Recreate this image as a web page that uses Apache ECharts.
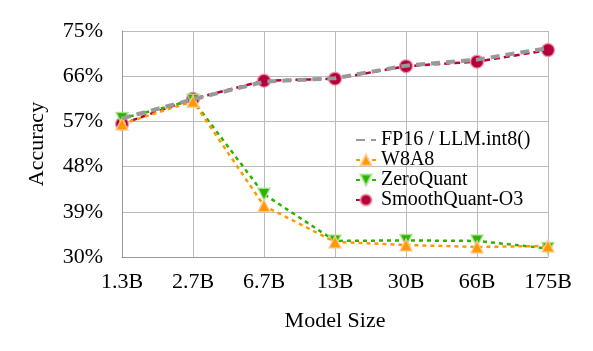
<!DOCTYPE html>
<html lang="en">
<head>
    <meta charset="UTF-8">
    <title>Accuracy vs model size</title>
    <script src="https://cdn.jsdelivr.net/npm/echarts@6/dist/echarts.min.js"></script>
    <style>
        html, body { margin: 0; padding: 0; background: #fff; }
    </style>
</head>
<body>
<div id="main" style="width: 593px;height:351px;"></div>
<script>
    // data
    var modelSizes = ['1.3B', '2.7B', '6.7B', '13B', '30B', '66B', '175B'];
    var fp16 = [57.6, 61.4, 64.9, 65.6, 68.1, 69.3, 71.6];
    var w8a8 = [56.5, 61.0, 40.2, 33.0, 32.4, 32.0, 32.2];
    var zeroQuant = [57.6, 61.2, 42.5, 33.2, 33.3, 33.2, 31.7];
    var smoothQuant = [56.5, 61.5, 65.1, 65.5, 68.0, 68.9, 71.2];

    var serif = 'Liberation Serif';
    var chart = echarts.init(document.getElementById('main'));
    var option = {
        animation: false,
        grid: {
            left: 122,
            right: 45,
            top: 31,
            bottom: 94
        },
        legend: {
            orient: 'vertical',
            left: 350,
            top: 125,
            itemWidth: 20,
            itemHeight: 14,
            itemGap: 0,
            textStyle: {
                fontFamily: serif,
                fontSize: 20,
                color: '#000'
            },
            data: [
                {name: 'FP16 / LLM.int8()', itemStyle: {opacity: 0}},
                'W8A8', 'ZeroQuant', 'SmoothQuant-O3'
            ]
        },
        xAxis: {
            type: 'category',
            boundaryGap: false,
            data: modelSizes,
            name: 'Model Size',
            nameLocation: 'middle',
            nameGap: 53,
            nameTextStyle: {fontFamily: serif, fontSize: 22, color: '#000'},
            axisLine: {lineStyle: {color: '#999', width: 1}},
            axisTick: {show: false},
            axisLabel: {fontFamily: serif, fontSize: 22, color: '#000', margin: 14},
            splitLine: {show: true, lineStyle: {color: '#bbb', width: 1}}
        },
        yAxis: {
            type: 'value',
            min: 30,
            max: 75,
            interval: 9,
            name: 'Accuracy',
            nameLocation: 'middle',
            nameGap: 74,
            nameTextStyle: {fontFamily: serif, fontSize: 22, color: '#000'},
            axisLine: {show: true, lineStyle: {color: '#999', width: 1}},
            axisTick: {show: false},
            axisLabel: {fontFamily: serif, fontSize: 22, color: '#000', margin: 19, formatter: '{value}%'},
            splitLine: {lineStyle: {color: '#bbb', width: 1}}
        },
        series: [
            {
                name: 'SmoothQuant-O3',
                type: 'line',
                data: smoothQuant,
                z: 2,
                symbol: 'circle',
                symbolSize: 13,
                lineStyle: {color: '#b5003a', width: 2.5, type: [6, 4]},
                itemStyle: {color: '#b5003a', borderColor: 'rgba(240,150,170,0.8)', borderWidth: 1.5}
            },
            {
                name: 'ZeroQuant',
                type: 'line',
                data: zeroQuant,
                z: 3,
                symbol: 'triangle',
                symbolRotate: 180,
                symbolSize: 12,
                lineStyle: {color: '#2db300', width: 2.5, type: [4, 4]},
                itemStyle: {color: '#2db300', borderColor: 'rgba(170,230,150,0.8)', borderWidth: 1.5}
            },
            {
                name: 'W8A8',
                type: 'line',
                data: w8a8,
                z: 4,
                symbol: 'triangle',
                symbolSize: 12,
                lineStyle: {color: '#ff9900', width: 2.5, type: [4, 4]},
                itemStyle: {color: '#ff9900', borderColor: 'rgba(255,205,150,0.8)', borderWidth: 1.5}
            },
            {
                name: 'FP16 / LLM.int8()',
                type: 'line',
                data: fp16,
                z: 5,
                symbol: 'none',
                lineStyle: {color: '#999', width: 4, type: [9, 6]},
                itemStyle: {color: '#999'}
            }
        ]
    };
    chart.setOption(option);
</script>
</body>
</html>
